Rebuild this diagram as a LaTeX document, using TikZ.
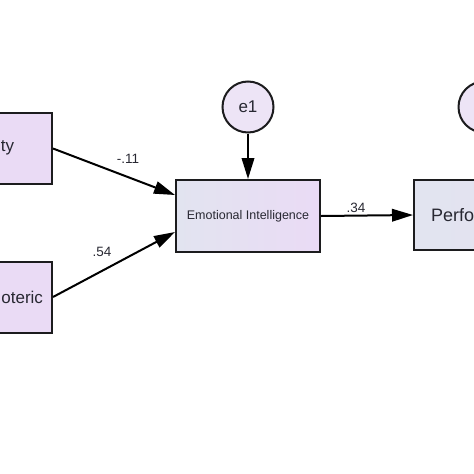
\documentclass[tikz,border=0pt]{standalone}
\usepackage{fontspec}
\setmainfont{Liberation Sans}
\usetikzlibrary{arrows.meta,calc}

\definecolor{boxlilac}{RGB}{234,219,245}
\definecolor{boxgrey}{RGB}{226,228,240}
\definecolor{circlilac}{RGB}{237,228,246}
\definecolor{edgegrey}{RGB}{28,28,30}
\definecolor{labelgrey}{RGB}{40,40,50}

\tikzset{every picture/.style={line width=2pt}}
\tikzset{
  varbox/.style={draw=edgegrey, fill=boxlilac, minimum height=71pt, inner sep=0pt},
  errcirc/.style={circle, draw=edgegrey, fill=circlilac, minimum size=51pt, inner sep=0pt,
    font=\fontsize{17}{19}\selectfont, text=labelgrey},
  bigtext/.style={font=\fontsize{17}{19}\selectfont, text=labelgrey, inner sep=0pt},
  coef/.style={font=\fontsize{13.5}{15}\selectfont, text=labelgrey, inner sep=0pt},
  regpath/.style={draw=black, -{Triangle[length=21pt,width=12.5pt]}}
}

\begin{document}
\begin{tikzpicture}[x=1pt,y=1pt,yscale=-1]
\useasboundingbox (0,0) rectangle (474,474);
\clip (0,0) rectangle (474,474);

%Rect
\node[varbox, minimum width=120pt, anchor=east] (pers) at (53,148.5) {};
\node[varbox, minimum width=120pt, anchor=east] (noter) at (53,297) {};
\node[varbox, minimum width=144pt, minimum height=72pt, left color=boxgrey, right color=boxlilac] (ei) at (248,216) {};
\node[varbox, minimum width=131pt, minimum height=70pt, left color=boxgrey, right color=boxgrey!80!boxlilac, anchor=west] (perf) at (413,215) {};

%Circle
\node[errcirc] (e1) at (248,107) {e1};
\node[errcirc] (e2) at (484,107) {};

% Text Node
\node[bigtext, anchor=east] (perstxt) at (15,148) {ty};
% Text Node
\node[bigtext, anchor=east] (notertxt) at (44,297) {oteric};
% Text Node
\node[font=\fontsize{12.5}{14}\selectfont, text=labelgrey] (eitxt) at (248,216) {Emotional Intelligence};
% Text Node
\node[bigtext, anchor=west, font=\fontsize{18}{20}\selectfont] (perftxt) at (430,215) {Perfo};

%Straight Lines
\draw[regpath] (pers.east) -- ($(ei.west)+(0,-21)$);
\draw[regpath] (noter.east) -- ($(ei.west)+(0,16)$);
\draw[regpath] (e1.south) -- (ei.north);
\draw[regpath] (ei.east) -- (perf.west);

% Text Node
\node[coef] (c1) at (128,159) {-.11};
\node[coef] (c2) at (102,252) {.54};
\node[coef] (c3) at (356,208) {.34};

\end{tikzpicture}
\end{document}
